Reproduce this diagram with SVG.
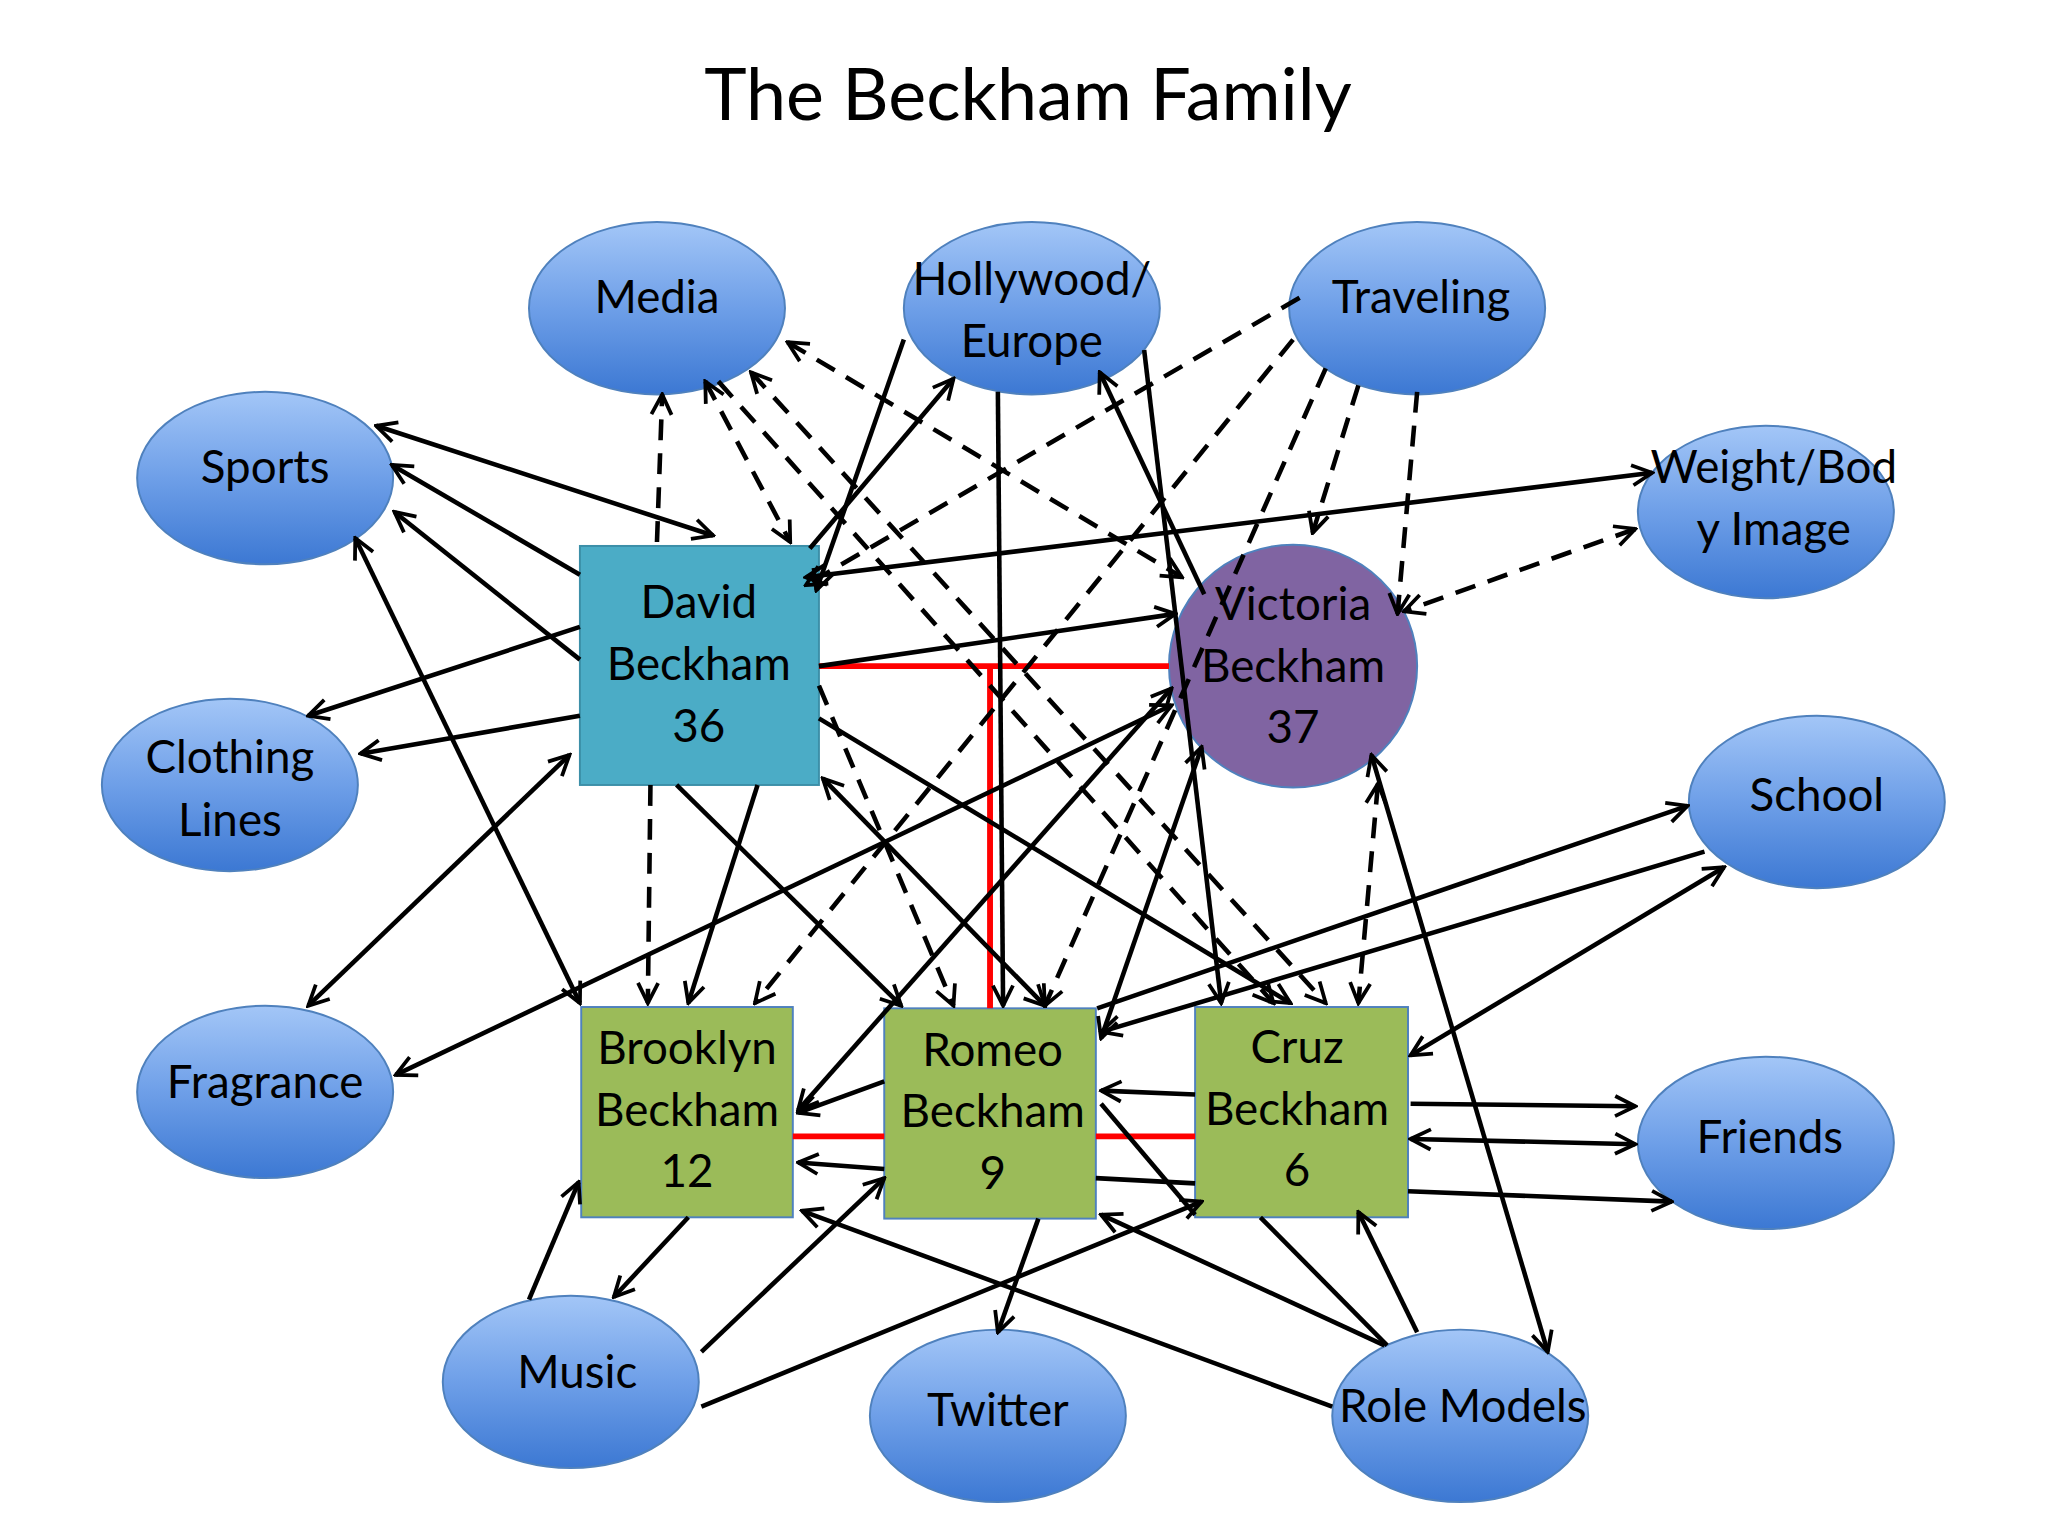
<svg xmlns="http://www.w3.org/2000/svg" width="2048" height="1536" viewBox="0 0 2048 1536">
<defs>
<linearGradient id="bl" x1="0" y1="0" x2="0" y2="1"><stop offset="0" stop-color="#A3C6F7"/><stop offset="0.5" stop-color="#6E9FE8"/><stop offset="1" stop-color="#3C78D3"/></linearGradient>
<marker id="a" viewBox="0 0 10 10" refX="9" refY="5" markerWidth="5.5" markerHeight="5.5" orient="auto-start-reverse" markerUnits="strokeWidth"><path d="M1,1 L9,5 L1,9" fill="none" stroke="#000" stroke-width="1.5"/></marker>
<style>
.e{fill:url(#bl);stroke:#4F81BD;stroke-width:1.5}
.t{font-family:Lato,"Open Sans",sans-serif;font-size:35px;text-anchor:middle;fill:#000}
.s{stroke:#000;stroke-width:3.5;fill:none}
.d{stroke:#000;stroke-width:3.5;fill:none;stroke-dasharray:16 10}
.r{stroke:#FF0000;stroke-width:4.5;fill:none}
.e1{marker-end:url(#a)}
.e2{marker-end:url(#a);marker-start:url(#a)}
</style>
</defs>
<rect width="2048" height="1536" fill="#fff"/>
<g transform="scale(1.30612)">
<text x="787" y="92" style="font-family:Lato,'Open Sans',sans-serif;font-size:55px;text-anchor:middle">The Beckham Family</text>
<g id="media"><ellipse class="e" cx="503" cy="236" rx="98" ry="66"/><text class="t" x="503" y="240">Media</text></g>
<g id="hollywood"><ellipse class="e" cx="790" cy="236" rx="98" ry="66"/><text class="t" x="790" y="226">Hollywood/</text><text class="t" x="790" y="273">Europe</text></g>
<g id="traveling"><ellipse class="e" cx="1085" cy="236" rx="98" ry="66"/><text class="t" x="1088" y="240">Traveling</text></g>
<g id="sports"><ellipse class="e" cx="203" cy="366" rx="98" ry="66"/><text class="t" x="203" y="370">Sports</text></g>
<g id="weight"><ellipse class="e" cx="1352" cy="392" rx="98" ry="66"/><text class="t" x="1358" y="370">Weight/Bod</text><text class="t" x="1358" y="417">y Image</text></g>
<g id="clothing"><ellipse class="e" cx="176" cy="601" rx="98" ry="66"/><text class="t" x="176" y="592">Clothing</text><text class="t" x="176" y="640">Lines</text></g>
<g id="school"><ellipse class="e" cx="1391" cy="614" rx="98" ry="66"/><text class="t" x="1391" y="621">School</text></g>
<g id="fragrance"><ellipse class="e" cx="203" cy="836" rx="98" ry="66"/><text class="t" x="203" y="841">Fragrance</text></g>
<g id="friends"><ellipse class="e" cx="1352" cy="875" rx="98" ry="66"/><text class="t" x="1355" y="883">Friends</text></g>
<g id="music"><ellipse class="e" cx="437" cy="1058" rx="98" ry="66"/><text class="t" x="442" y="1063">Music</text></g>
<g id="twitter"><ellipse class="e" cx="764" cy="1084" rx="98" ry="66"/><text class="t" x="764" y="1092">Twitter</text></g>
<g id="rolemodels"><ellipse class="e" cx="1118" cy="1084" rx="98" ry="66"/><text class="t" x="1120" y="1089">Role Models</text></g>
<g id="david"><rect x="444" y="418" width="183" height="183" fill="#4BACC6" stroke="#3C8FA8" stroke-width="1.5"/><text class="t" x="535" y="473">David</text><text class="t" x="535" y="521">Beckham</text><text class="t" x="535" y="568">36</text></g>
<g id="victoria"><ellipse cx="990" cy="510" rx="95" ry="93" fill="#8064A2" stroke="#4F81BD" stroke-width="1.5"/><text class="t" x="990" y="475">Victoria</text><text class="t" x="990" y="522">Beckham</text><text class="t" x="990" y="569">37</text></g>
<g id="brooklyn"><rect x="445" y="771" width="162" height="161" fill="#9BBB59" stroke="#4F81BD" stroke-width="1.5"/><text class="t" x="526" y="815">Brooklyn</text><text class="t" x="526" y="862">Beckham</text><text class="t" x="526" y="909">12</text></g>
<g id="romeo"><rect x="677" y="772" width="162" height="161" fill="#9BBB59" stroke="#4F81BD" stroke-width="1.5"/><text class="t" x="760" y="816">Romeo</text><text class="t" x="760" y="863">Beckham</text><text class="t" x="760" y="910">9</text></g>
<g id="cruz"><rect x="915" y="771" width="163" height="161" fill="#9BBB59" stroke="#4F81BD" stroke-width="1.5"/><text class="t" x="993" y="814">Cruz</text><text class="t" x="993" y="861">Beckham</text><text class="t" x="993" y="908">6</text></g>
<g id="connectors">
<path class="r" d="M627,510H895M758,510V772M607,870H677M839,870H915"/>
<line class="s e2" x1="288" y1="326" x2="546" y2="410"/>
<line class="s e1" x1="444" y1="440" x2="300" y2="356"/>
<line class="s e1" x1="444" y1="505" x2="302" y2="392"/>
<line class="s e2" x1="272" y1="412" x2="444" y2="768"/>
<line class="s e1" x1="444" y1="480" x2="236" y2="548"/>
<line class="s e1" x1="444" y1="548" x2="276" y2="577"/>
<line class="s e2" x1="236" y1="770" x2="436" y2="578"/>
<line class="s e2" x1="897" y1="540" x2="303" y2="823"/>
<line class="s e2" x1="617" y1="442" x2="1265" y2="362"/>
<line class="s e1" x1="627" y1="510" x2="900" y2="470"/>
<line class="s e1" x1="692" y1="260" x2="625" y2="452"/>
<line class="s e1" x1="620" y1="420" x2="730" y2="290"/>
<line class="s e1" x1="764" y1="300" x2="768" y2="770"/>
<line class="s e1" x1="876" y1="268" x2="935" y2="768"/>
<line class="s e1" x1="922" y1="455" x2="842" y2="285"/>
<line class="s e1" x1="518" y1="601" x2="690" y2="770"/>
<line class="s e1" x1="580" y1="601" x2="527" y2="768"/>
<line class="s e2" x1="630" y1="596" x2="800" y2="770"/>
<line class="s e1" x1="627" y1="550" x2="988" y2="768"/>
<line class="s e2" x1="611" y1="850" x2="897" y2="527"/>
<line class="s e2" x1="843" y1="795" x2="920" y2="572"/>
<line class="s e2" x1="1050" y1="578" x2="1185" y2="1035"/>
<line class="s e1" x1="840" y1="772" x2="1292" y2="617"/>
<line class="s e1" x1="1305" y1="652" x2="843" y2="790"/>
<line class="s e2" x1="1320" y1="664" x2="1080" y2="808"/>
<line class="s e1" x1="1080" y1="845" x2="1252" y2="847"/>
<line class="s e2" x1="1252" y1="876" x2="1080" y2="872"/>
<line class="s e1" x1="1078" y1="912" x2="1280" y2="920"/>
<line class="s e1" x1="915" y1="838" x2="843" y2="835"/>
<line class="s e1" x1="677" y1="828" x2="611" y2="852"/>
<line class="s e1" x1="677" y1="895" x2="611" y2="890"/>
<line class="s" x1="839" y1="902" x2="915" y2="906"/>
<line class="s" x1="843" y1="845" x2="915" y2="930"/>
<line class="s e1" x1="405" y1="995" x2="443" y2="905"/>
<line class="s e1" x1="527" y1="932" x2="470" y2="993"/>
<line class="s e1" x1="537" y1="1035" x2="677" y2="902"/>
<line class="s e1" x1="537" y1="1077" x2="920" y2="920"/>
<line class="s e1" x1="795" y1="933" x2="764" y2="1020"/>
<line class="s e1" x1="1020" y1="1077" x2="614" y2="927"/>
<line class="s e1" x1="1060" y1="1030" x2="843" y2="930"/>
<line class="s e1" x1="1085" y1="1020" x2="1040" y2="928"/>
<line class="s" x1="965" y1="932" x2="1062" y2="1030"/>
<line class="d e1" x1="503" y1="415" x2="507" y2="302"/>
<line class="d e2" x1="540" y1="292" x2="605" y2="415"/>
<line class="d e2" x1="575" y1="285" x2="1015" y2="768"/>
<line class="d e2" x1="603" y1="262" x2="905" y2="442"/>
<line class="d e1" x1="995" y1="228" x2="617" y2="448"/>
<line class="d e1" x1="990" y1="260" x2="578" y2="768"/>
<line class="d e1" x1="1015" y1="282" x2="800" y2="770"/>
<line class="d e1" x1="1040" y1="295" x2="1005" y2="408"/>
<line class="d e1" x1="1085" y1="300" x2="1070" y2="470"/>
<line class="d e2" x1="1252" y1="405" x2="1075" y2="468"/>
<line class="d e1" x1="498" y1="601" x2="496" y2="768"/>
<line class="d e1" x1="627" y1="525" x2="730" y2="770"/>
<line class="d e2" x1="1055" y1="600" x2="1040" y2="768"/>
<line class="d e1" x1="550" y1="292" x2="975" y2="768"/>
</g>
</g>
</svg>
